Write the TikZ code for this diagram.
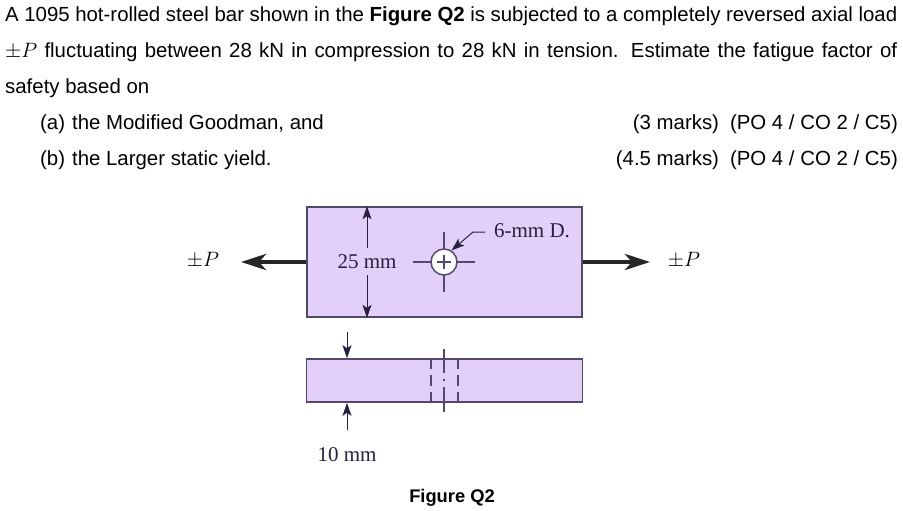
\documentclass[tikz,border=0pt]{standalone}
\usepackage{fontspec}
\setmainfont{Liberation Sans}
\newfontfamily\figfont{Liberation Serif}
\usetikzlibrary{arrows.meta,positioning,calc}
\definecolor{barfill}{RGB}{227,208,248}
\definecolor{barline}{RGB}{84,72,108}
\definecolor{dimink}{RGB}{40,32,62}

\begin{document}
\begin{tikzpicture}[x=1pt, y=-1pt,
    txt/.style={font=\fontsize{20.4}{36}\selectfont, inner sep=0pt},
    figlabel/.style={font=\figfont\fontsize{21}{24}\selectfont, text=dimink, inner sep=1pt},
    loadlabel/.style={font=\figfont\fontsize{20}{24}\selectfont, text=black, inner sep=1pt},
    barbox/.style={draw=barline, fill=barfill, line width=1.6pt, inner sep=0pt},
    dimarrow/.style={draw=dimink, line width=1pt, -{Stealth[length=13pt, width=9pt, inset=3pt]}},
    loadarrow/.style={draw=black!85, line width=4.4pt, -{Stealth[length=25pt, width=16pt, inset=7pt]}},
    axisline/.style={draw=barline, line width=1.5pt}]

  \useasboundingbox (0,0) rectangle (903,511);

  % question text
  \node[txt, anchor=north west, text width=892pt, align=justify] (question) at (5,6.5) {A 1095 hot-rolled steel bar shown in the \textbf{Figure Q2} is subjected to a completely reversed axial load\linebreak $\pm P$ fluctuating between 28 kN in compression to 28 kN in tension. Estimate the fatigue factor of\linebreak safety based on};
  \node[txt, anchor=base west] (parta) at (40,129) {(a)\hspace{7pt}the Modified Goodman, and};
  \node[txt, anchor=base west] (partb) at (40,165) {(b)\hspace{7pt}the Larger static yield.};
  \node[txt, anchor=base east] (marksa) at (898,129) {(3 marks)\hspace{11pt}(PO 4 / CO 2 / C5)};
  \node[txt, anchor=base east] (marksb) at (898,165) {(4.5 marks)\hspace{11pt}(PO 4 / CO 2 / C5)};

  % top view
  \node[barbox, minimum width=275pt, minimum height=110pt] (bar) at (444.5,262) {};
  \node[figlabel] (width) at (367,262) {25 mm};
  \node[figlabel] (holelabel) at (532,231) {6-mm D.};
  \node[loadlabel] (loadl) at (203,260) {$\pm P$};
  \node[loadlabel] (loadr) at (684,260) {$\pm P$};

  \coordinate (tipl) at (241,262);
  \coordinate (tipr) at (650,262);
  \draw[loadarrow] (bar.west) -- (tipl);
  \draw[loadarrow] (bar.east) -- (tipr);

  \coordinate (dimup) at (367,248);
  \coordinate (dimdown) at (367,275);
  \draw[dimarrow] (dimup) -- (dimup |- bar.north);
  \draw[dimarrow] (dimdown) -- (dimdown |- bar.south);

  % hole with centre lines
  \coordinate (holec) at (444,262);
  \draw[axisline] (413,262) -- (475,262);
  \draw[axisline] (444,232) -- (444,292);
  \node[circle, draw=barline, fill=white, line width=1.5pt, minimum size=26pt, inner sep=0pt] (hole) at (holec) {};
  \draw[axisline] (437,262) -- (451,262);
  \draw[axisline] (444,255) -- (444,269);
  \coordinate (leader) at (473,232);
  \draw[dimarrow] (485,232) -- (leader) -- (hole.57);

  % side view
  \node[barbox, minimum width=276pt, minimum height=43pt] (side) at (444.5,380.5) {};
  \coordinate (thicktop) at (347,332);
  \coordinate (thickbot) at (347,430);
  \draw[dimarrow] (thicktop) -- (thicktop |- side.north);
  \draw[dimarrow] (thickbot) -- (thickbot |- side.south);
  \node[figlabel] (thick) at (347,455) {10 mm};
  \draw[axisline, dash pattern=on 24pt off 6pt on 2pt off 6pt on 25pt] (444,349) -- (444,412);
  \draw[axisline, dash pattern=on 10pt off 6pt on 11pt off 6pt on 10pt] (431,359) -- (431,402);
  \draw[axisline, dash pattern=on 10pt off 6pt on 11pt off 6pt on 10pt] (458,359) -- (458,402);

  \node[font=\fontsize{18.3}{20}\selectfont\bfseries, inner sep=0pt] (caption) at (452,498) {Figure Q2};
\end{tikzpicture}
\end{document}
